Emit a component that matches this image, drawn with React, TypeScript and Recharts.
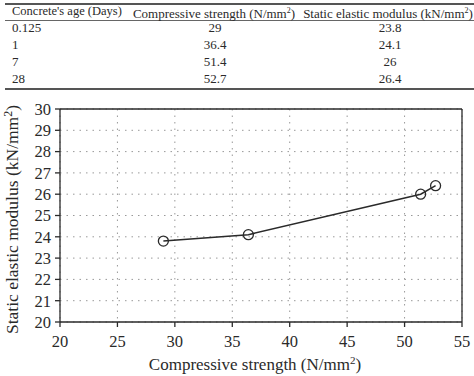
import React from "react";
import { LineChart, Line, XAxis, YAxis, CartesianGrid, ReferenceLine, Label } from "recharts";

const ages = ["0.125", "1", "7", "28"];
const strength = [29, 36.4, 51.4, 52.7];
const modulus = [23.8, 24.1, 26, 26.4];
const xTicks = [20, 25, 30, 35, 40, 45, 50, 55];
const yTicks = [20, 21, 22, 23, 24, 25, 26, 27, 28, 29, 30];

const data = strength.map((s, i) => ({ x: s, y: modulus[i] }));

const FONT = "'Liberation Serif', 'DejaVu Serif', serif";
const INK = "#2a2a2a";

const XTitle = (props: any) => {
  const vb = props.viewBox || {};
  const cx = vb.x + vb.width / 2 - 6;
  return (
    <text x={cx} y={370} textAnchor="middle" fontFamily={FONT} fontSize={17} fill={INK}>
      <tspan>Compressive strength (N/mm</tspan>
      <tspan dy={-6} fontSize={11}>2</tspan>
      <tspan dy={6}>)</tspan>
    </text>
  );
};

const YTitle = (props: any) => {
  const vb = props.viewBox || {};
  const cy = vb.y + vb.height / 2 + 4;
  const cx = 18;
  return (
    <text x={cx} y={cy} textAnchor="middle" fontFamily={FONT} fontSize={17.5} fill={INK} transform={`rotate(-90 ${cx} ${cy})`}>
      <tspan>Static elastic modulus (kN/mm</tspan>
      <tspan dy={-6} fontSize={12}>2</tspan>
      <tspan dy={6}>)</tspan>
    </text>
  );
};

const cell = (left: number, top: number, text: React.ReactNode, align: "left" | "center", key: string, size = 13) => (
  <div
    key={key}
    style={{
      position: "absolute",
      left: align === "left" ? left : left - 150,
      width: align === "left" ? undefined : 300,
      top: top - 8,
      height: 16,
      lineHeight: "16px",
      textAlign: align,
      whiteSpace: "nowrap",
      fontFamily: FONT,
      fontSize: size,
      color: INK,
    }}
  >
    {text}
  </div>
);

const rowY = [28, 45, 62, 79];

export default function App() {
  return (
    <div style={{ position: "absolute", left: 0, top: 0, width: 474, height: 376, background: "#fff" }}>
      <div style={{ position: "absolute", left: 5, right: 0, top: 3, height: 0, borderTop: "2px solid #555" }} />
      <div style={{ position: "absolute", left: 5, right: 0, top: 20, height: 0, borderTop: "1px solid #666" }} />
      <div style={{ position: "absolute", left: 5, right: 0, top: 88, height: 0, borderTop: "2px solid #555" }} />
      {cell(12, 11, "Concrete's age (Days)", "left", "h1", 12.5)}
      {cell(214, 11, <span>Compressive strength (N/mm<sup style={{ fontSize: 8 }}>2</sup>)</span>, "center", "h2")}
      {cell(388, 11, <span>Static elastic modulus (kN/mm<sup style={{ fontSize: 8 }}>2</sup>)</span>, "center", "h3")}
      {ages.map((a, i) => cell(12, rowY[i], a, "left", "a" + i))}
      {strength.map((s, i) => cell(215, rowY[i], String(s), "center", "s" + i))}
      {modulus.map((m, i) => cell(390, rowY[i], String(m), "center", "m" + i))}
      <div style={{ position: "absolute", left: 0, top: 0 }}>
        <LineChart width={474} height={376} data={data} margin={{ top: 109, right: 12, bottom: 0, left: 0 }}>
          <CartesianGrid stroke="#999" strokeDasharray="1.5 5" />
          <XAxis
            type="number"
            dataKey="x"
            domain={[20, 55]}
            ticks={xTicks}
            interval={0}
            height={54}
            tickSize={5}
            tickMargin={8}
            stroke={INK}
            strokeWidth={1.3}
            tick={{ fontFamily: FONT, fontSize: 16.5, fill: INK }}
          >
            <Label content={<XTitle />} />
          </XAxis>
          <YAxis
            type="number"
            dataKey="y"
            domain={[20, 30]}
            ticks={yTicks}
            interval={0}
            width={60}
            tickSize={5}
            tickMargin={4}
            stroke={INK}
            strokeWidth={1.3}
            tick={{ fontFamily: FONT, fontSize: 16.5, fill: INK }}
          >
            <Label content={<YTitle />} />
          </YAxis>
          <ReferenceLine y={30} stroke={INK} strokeWidth={1.3} />
          <ReferenceLine x={55} stroke={INK} strokeWidth={1.3} />
          <Line
            type="linear"
            dataKey="y"
            stroke={INK}
            strokeWidth={1.5}
            isAnimationActive={false}
            dot={{ r: 5, stroke: INK, strokeWidth: 1.3, fill: "none" }}
            activeDot={false}
          />
        </LineChart>
      </div>
    </div>
  );
}
